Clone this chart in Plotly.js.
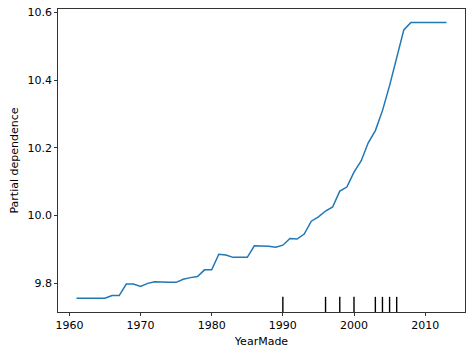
<!DOCTYPE html>
<html>
<head>
<meta charset="utf-8">
<script src="https://cdn.plot.ly/plotly-3.0.1.min.js"></script>
<style>html,body{margin:0;padding:0;background:#fff;}#chart{width:474px;height:356px;}</style>
</head>
<body>
<div id="chart"></div>
<script>
const years = [1961,1962,1963,1964,1965,1966,1967,1968,1969,1970,1971,1972,1973,1974,1975,1976,1977,1978,1979,1980,1981,1982,1983,1984,1985,1986,1987,1988,1989,1990,1991,1992,1993,1994,1995,1996,1997,1998,1999,2000,2001,2002,2003,2004,2005,2006,2007,2008,2009,2010,2011,2012,2013];
const partialDependence = [9.755,9.755,9.755,9.755,9.755,9.763,9.763,9.797,9.797,9.790,9.799,9.804,9.802,9.802,9.802,9.811,9.816,9.819,9.839,9.839,9.885,9.883,9.876,9.876,9.876,9.910,9.910,9.909,9.906,9.912,9.932,9.930,9.945,9.983,9.996,10.013,10.025,10.072,10.084,10.128,10.161,10.215,10.251,10.310,10.384,10.468,10.549,10.571,10.571,10.571,10.571,10.571,10.571];
const deciles = [1990,1996,1998,2000,2003,2004,2005,2006];
const xTicks = [1960,1970,1980,1990,2000,2010];
const yTicks = [9.8,10.0,10.2,10.4,10.6];

const font = {family: 'DejaVu Sans', size: 11, color: '#000'};
const shapes = deciles.map(d => ({
  type: 'line', xref: 'x', yref: 'paper', x0: d, x1: d, y0: 0, y1: 0.05,
  line: {color: '#000', width: 1.4}
}));

Plotly.newPlot('chart', [{
  x: years, y: partialDependence, type: 'scatter', mode: 'lines',
  line: {color: '#1f77b4', width: 1.5}, hoverinfo: 'skip'
}], {
  width: 474, height: 356,
  margin: {l: 58, r: 9, t: 9, b: 44, pad: 0},
  paper_bgcolor: '#fff', plot_bgcolor: '#fff',
  font: font,
  showlegend: false,
  shapes: shapes,
  xaxis: {
    range: [1958.4, 2015.6], tickvals: xTicks, ticktext: xTicks.map(String),
    ticks: 'outside', ticklen: 3, tickwidth: 0.8, tickcolor: '#000',
    showline: true, mirror: true, linecolor: '#000', linewidth: 0.8,
    showgrid: false, zeroline: false, tickfont: font,
    title: {text: 'YearMade', font: font, standoff: 6}
  },
  yaxis: {
    range: [9.7143, 10.6107], tickvals: yTicks, ticktext: yTicks.map(v => v.toFixed(1)),
    ticks: 'outside', ticklen: 3, tickwidth: 0.8, tickcolor: '#000',
    showline: true, mirror: true, linecolor: '#000', linewidth: 0.8,
    showgrid: false, zeroline: false, tickfont: font,
    title: {text: 'Partial dependence', font: font, standoff: 6}
  }
}, {displayModeBar: false, staticPlot: true});
</script>
</body>
</html>
